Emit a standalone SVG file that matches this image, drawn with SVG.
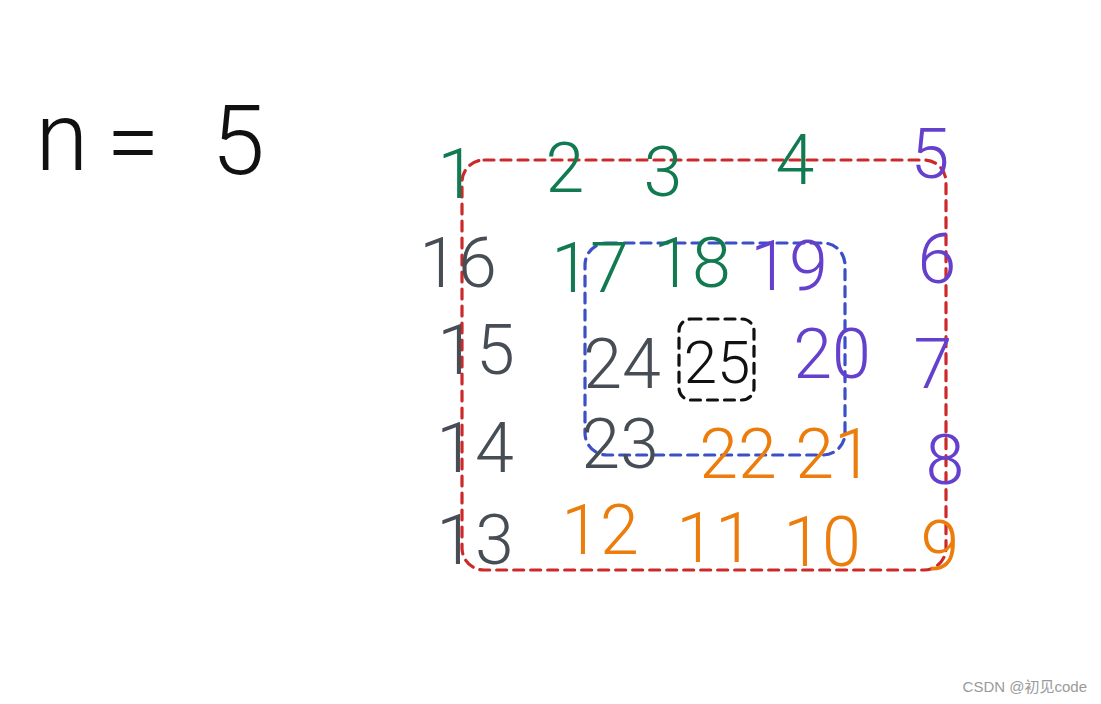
<svg xmlns="http://www.w3.org/2000/svg" width="1101" height="704" viewBox="0 0 1101 704">
<style>
.n{font-family:Roboto,"Liberation Sans",sans-serif;font-weight:300;font-size:70px;text-anchor:middle}
.g{fill:#127a50}.p{fill:#6440cc}.k{fill:#474d55}.o{fill:#ec7d0c}.b{fill:#111}
.box{fill:none;stroke-width:3.2;stroke-dasharray:10 7;stroke-linecap:round}
</style>
<rect width="1101" height="704" fill="#fff"/>
<g id="title" font-family="Roboto,'Liberation Sans',sans-serif" font-weight="300" font-size="96" fill="#111" text-anchor="middle">
<text x="62" y="170">n</text><text x="133" y="175">=</text><text x="238" y="174">5</text>
</g>
<g id="boxes">
<rect class="box" x="462" y="160" width="484" height="410" rx="22" stroke="#cc2a2a"/>
<rect class="box" x="585" y="243" width="260" height="212" rx="22" stroke="#3a4fc8"/>
<rect class="box" x="679" y="319" width="75" height="81" rx="12" stroke="#111"/>
</g>
<g id="row1"><text class="n g" x="457" y="198">1</text><text class="n g" x="565" y="192">2</text><text class="n g" x="663" y="196">3</text><text class="n g" x="795" y="184">4</text><text class="n p" x="930" y="178">5</text></g>
<g id="row2"><text class="n k" x="458" y="287">16</text><text class="n g" x="590" y="292">17</text><text class="n g" x="692" y="287">18</text><text class="n p" x="789" y="290">19</text><text class="n p" x="937" y="283">6</text></g>
<g id="row3"><text class="n k" x="476" y="374">15</text><text class="n k" x="622" y="388">24</text><text class="n b" x="717" y="383" style="font-size:60px">25</text><text class="n p" x="832" y="378">20</text><text class="n p" x="933" y="388">7</text></g>
<g id="row4"><text class="n k" x="475" y="472">14</text><text class="n k" x="620" y="468">23</text><text class="n o" x="738" y="478">22</text><text class="n o" x="834" y="478">21</text><text class="n p" x="945" y="484">8</text></g>
<g id="row5"><text class="n k" x="475" y="564">13</text><text class="n o" x="600" y="554">12</text><text class="n o" x="715" y="562">11</text><text class="n o" x="822" y="566">10</text><text class="n o" x="940" y="570">9</text></g>
<text x="1087" y="692" font-family="'Liberation Sans','Noto Sans CJK SC',sans-serif" font-size="15" fill="#9a9a9a" text-anchor="end">CSDN @初见code</text>
</svg>
